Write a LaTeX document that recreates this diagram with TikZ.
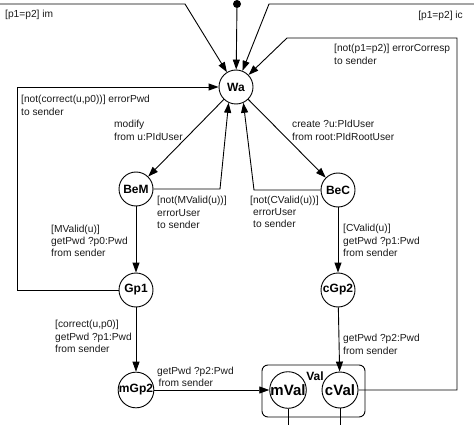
\documentclass[tikz,border=0pt]{standalone}
\usepackage{fontspec}
\setmainfont{Liberation Sans}
\usetikzlibrary{arrows.meta}
\begin{document}
\begin{tikzpicture}[x=1pt,y=-1pt,
  state/.style={circle,draw,line width=0.9pt,minimum size=34pt,inner sep=0pt,font=\bfseries\fontsize{12}{14}\selectfont},
  bigstate/.style={state,minimum size=36pt,font=\bfseries\fontsize{15}{17}\selectfont},
  lbl/.style={anchor=north west,inner sep=0pt,align=left,font=\fontsize{10.2}{12.2}\selectfont,text=black!90},
  arr/.style={line width=0.9pt,-{Triangle[length=10pt,width=7pt]}},
  ln/.style={line width=0.9pt}]
\useasboundingbox (0,0) rectangle (474,425);
% states
\node[state] (Wa) at (236,87) {Wa};
\node[state] (BeM) at (136,189) {BeM};
\node[state] (BeC) at (338,190) {BeC};
\node[state] (Gp1) at (136,290) {Gp1};
\node[state] (cGp2) at (338,290) {cGp2};
\node[state] (mGp2) at (136,390) {mGp2};
\node[draw,ln,rounded corners=6pt,minimum width=103pt,minimum height=52pt,inner sep=0pt] (Val) at (313.5,391) {};
\node[inner sep=0pt,font=\bfseries\fontsize{12}{14}\selectfont] (Vallbl) at (315,376) {Val};
\node[bigstate] (mVal) at (288,390) {mVal};
\node[bigstate] (cVal) at (340,390) {cVal};
\node[circle,fill,inner sep=0pt,minimum size=8pt] (dot) at (237,4) {};
% coordinates
\coordinate (imA) at (0,4);
\coordinate (imB) at (185,4);
\coordinate (icA) at (474,4);
\coordinate (icB) at (269,4);
\coordinate (ecA) at (457,390);
\coordinate (ecB) at (457,38);
\coordinate (ecC) at (287,38);
\coordinate (epA) at (17,290);
\coordinate (epB) at (17,87);
\coordinate (muA) at (220,189);
\coordinate (cuA) at (254,190);
\coordinate (mOut) at (288,425);
\coordinate (cOut) at (340,425);
% connectors
\draw[arr] (dot) -- (Wa);
\draw[arr] (imA) -- (imB) -- (Wa);
\draw[arr] (icA) -- (icB) -- (Wa);
\draw[arr] (cVal.east) -- (ecA) -- (ecB) -- (ecC) -- (Wa);
\draw[arr] (Gp1.west) -- (epA) -- (epB) -- (Wa);
\draw[arr] (Wa) -- (BeM);
\draw[arr] (Wa) -- (BeC);
\draw[arr] (BeM.east) -- (muA) -- (Wa.245);
\draw[arr] (BeC.west) -- (cuA) -- (Wa.295);
\draw[arr] (BeM) -- (Gp1);
\draw[arr] (Gp1) -- (mGp2);
\draw[arr] (mGp2) -- (mVal);
\draw[arr] (BeC) -- (cGp2);
\draw[arr] (cGp2) -- (cVal);
\draw[ln] (mVal) -- (mOut);
\draw[ln] (cVal) -- (cOut);
% labels
\node[lbl] (l1) at (5,10.3) {[p1=p2] im};
\node[lbl,anchor=north east] (l2) at (463,11.3) {[p1=p2] ic};
\node[lbl] (l3) at (334,44.3) {[not(p1=p2)] errorCorresp\\to sender};
\node[lbl] (l4) at (21,95.3) {[not(correct(u,p0))] errorPwd\\to sender};
\node[lbl] (l5) at (114,120.3) {modify\\from u:PIdUser};
\node[lbl] (l6) at (292,120.3) {create ?u:PIdUser\\from root:PIdRootUser};
\node[lbl] (l7) at (157,196.3) {[not(MValid(u))]\\errorUser\\to sender};
\node[lbl] (l8) at (250,195.8) {[not(CValid(u))]\\\hspace{3pt}errorUser\\\hspace{3pt}to sender};
\node[lbl] (l9) at (51,224.8) {[MValid(u)]\\getPwd ?p0:Pwd\\from sender};
\node[lbl] (l10) at (343,224.3) {[CValid(u)]\\getPwd ?p1:Pwd\\from sender};
\node[lbl] (l11) at (55,320.3) {[correct(u,p0)]\\getPwd ?p1:Pwd\\from sender};
\node[lbl] (l12) at (157,366.8) {getPwd ?p2:Pwd\\\hspace{1.5pt}from sender};
\node[lbl] (l13) at (343,334.3) {getPwd ?p2:Pwd\\from sender};
\end{tikzpicture}
\end{document}
